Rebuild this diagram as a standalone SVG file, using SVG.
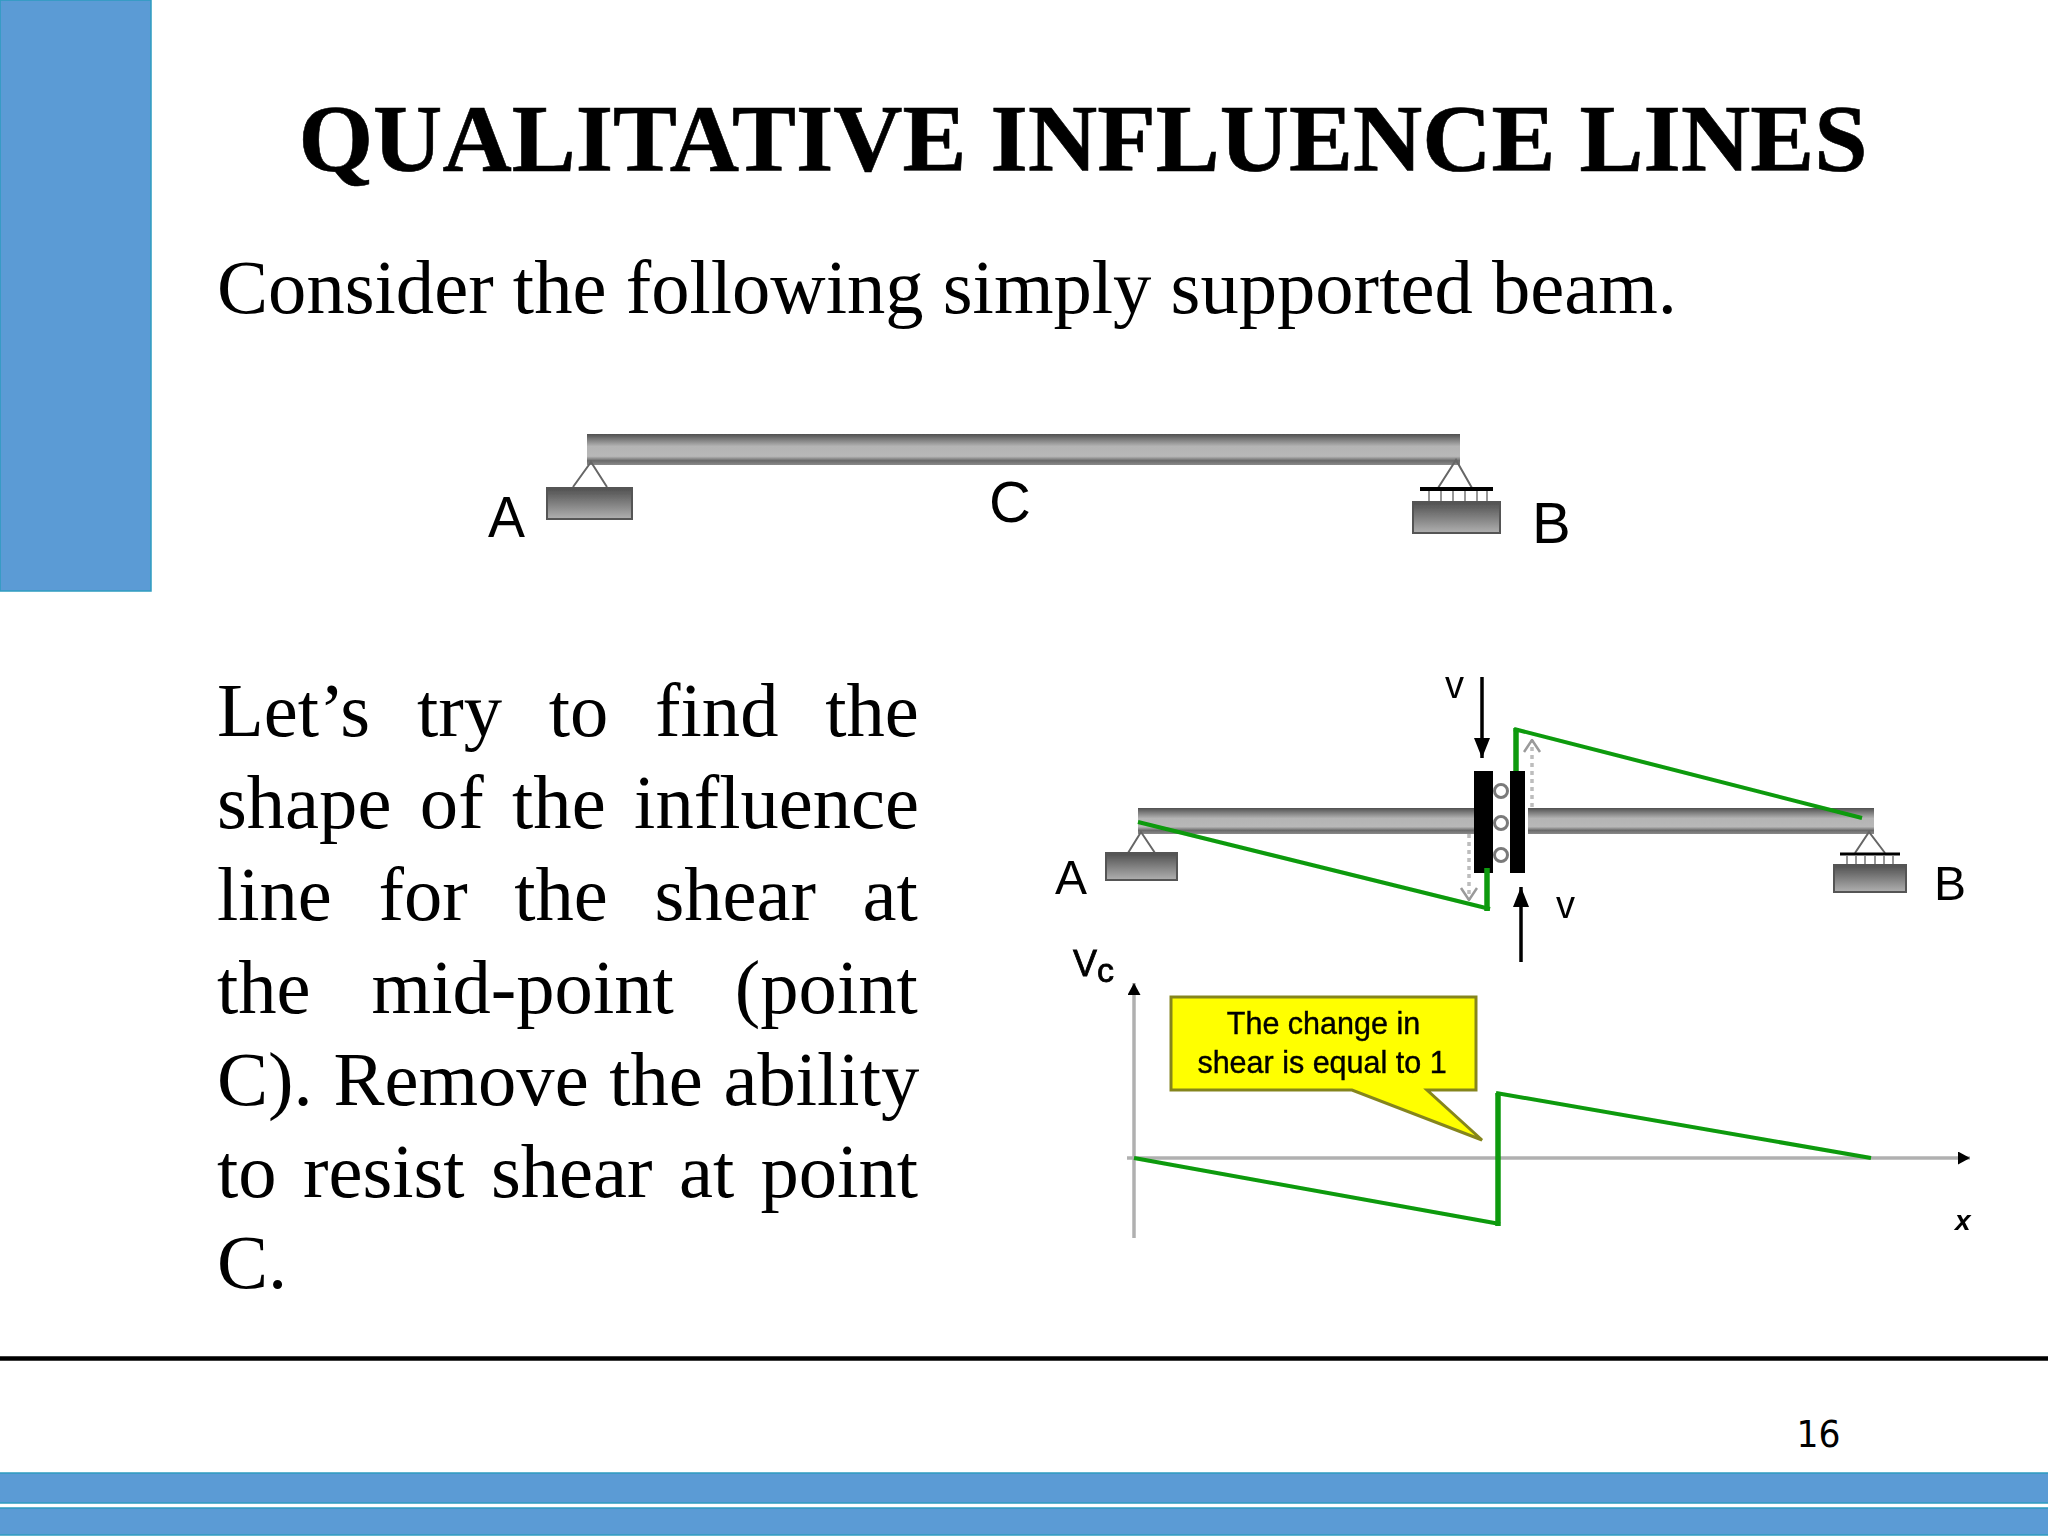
<svg xmlns="http://www.w3.org/2000/svg" width="2048" height="1536" viewBox="0 0 2048 1536">
<style>
.band{fill:#5b9bd5;stroke:#2e9cc0;stroke-width:1.5}
.title{font-family:"Liberation Serif",serif;font-weight:700;font-size:96px;fill:#000;stroke:#000;stroke-width:.6}
.body{font-family:"Liberation Serif",serif;font-size:76.6px;fill:#000}
.lbl{font-family:"Liberation Sans",Arial,sans-serif;fill:#000}
.beam{fill:url(#beamG)}
.block{fill:url(#blockG);stroke:#555;stroke-width:2}
.leg{fill:none;stroke:#666;stroke-width:2}
.green{fill:none;stroke:#0a9a0a;stroke-width:4;stroke-linejoin:miter}
.greenv{fill:none;stroke:#0a9a0a;stroke-width:5.5}
.axis{fill:none;stroke:#b0b0b0;stroke-width:3.5}
.force{fill:none;stroke:#000;stroke-width:3.5}
.ghost{fill:none;stroke:#bdbdbd;stroke-width:3.5;stroke-dasharray:4 4}
.roller{fill:#fff;stroke:#7a7a7a;stroke-width:3}
.small{fill:none;stroke:#777;stroke-width:1.5}
</style>
<defs>
<linearGradient id="beamG" x1="0" y1="0" x2="0" y2="1">
<stop offset="0" stop-color="#4f4f4f"/><stop offset=".12" stop-color="#6e6e6e"/><stop offset=".4" stop-color="#b4b4b4"/><stop offset=".72" stop-color="#b8b8b8"/><stop offset=".86" stop-color="#6a6a6a"/><stop offset="1" stop-color="#8a8a8a"/>
</linearGradient>
<linearGradient id="blockG" x1="0" y1="0" x2="0" y2="1">
<stop offset="0" stop-color="#505050"/><stop offset="1" stop-color="#b0b0b0"/>
</linearGradient>
<filter id="soft" x="-5%" y="-5%" width="110%" height="110%"><feGaussianBlur stdDeviation="0.7"/></filter>
<marker id="headBlack" markerUnits="userSpaceOnUse" markerWidth="20" markerHeight="16" refX="20" refY="8" orient="auto"><path d="M0 0L20 8L0 16Z" fill="#000"/></marker>
<marker id="headAxis" markerUnits="userSpaceOnUse" markerWidth="12" markerHeight="14" refX="12" refY="6.5" orient="auto"><path d="M0 0L12 6.5L0 13Z" fill="#000"/></marker>
<marker id="headGhost" markerUnits="userSpaceOnUse" markerWidth="14" markerHeight="20" refX="13" refY="9" orient="auto"><path d="M1 1L13 9L1 17" fill="none" stroke="#9a9a9a" stroke-width="2.5"/></marker>
</defs>
<rect width="2048" height="1536" fill="#fff"/>
<rect id="side-band" class="band" x="0" y="0" width="151" height="591"/>
<rect id="footer-band-1" class="band" x="-2" y="1473" width="2052" height="30"/>
<rect id="footer-band-2" class="band" x="-2" y="1508" width="2052" height="27"/>
<line id="footer-rule" x1="0" y1="1358.5" x2="2048" y2="1358.5" stroke="#000" stroke-width="4.5"/>
<text id="title" class="title" x="298.5" y="171" textLength="1569" lengthAdjust="spacingAndGlyphs">QUALITATIVE INFLUENCE LINES</text>
<text id="intro" class="body" x="217" y="313" textLength="1460">Consider the following simply supported beam.</text>
<g id="paragraph">
<text class="body" x="217" y="736" word-spacing="27.6">Let’s try to find the</text>
<text class="body" x="217" y="828" word-spacing="9.3">shape of the influence</text>
<text class="body" x="217" y="920" word-spacing="27.4">line for the shear at</text>
<text class="body" x="217" y="1013" word-spacing="41.9">the mid-point (point</text>
<text class="body" x="217" y="1105" word-spacing="1.5">C). Remove the ability</text>
<text class="body" x="217" y="1197" word-spacing="7.2">to resist shear at point</text>
<text class="body" x="217" y="1288">C.</text>
</g>
<text id="page-number" x="1796.5" y="1447" font-family="'DejaVu Sans',sans-serif" font-size="38" textLength="44" lengthAdjust="spacingAndGlyphs" fill="#000">16</text>

<g id="top-beam-figure" filter="url(#soft)">
<g id="beam-top"><rect class="beam" x="587" y="434" width="873" height="31"/></g>
<g id="support-a-top">
<path class="leg" d="M573 487L591 462L607 487"/>
<rect class="block" x="547" y="488" width="85" height="31"/>
</g>
<g id="support-b-top">
<path class="leg" d="M1438 488L1456 460L1472 488"/>
<line x1="1420" y1="489" x2="1493" y2="489" stroke="#000" stroke-width="4"/>
<path class="small" d="M1429 491V502M1441 491V502M1453 491V502M1465 491V502M1477 491V502M1487 491V502"/>
<rect class="block" x="1413" y="502" width="87" height="31"/>
</g>
<text id="label-a-top" class="lbl" x="488" y="537" font-size="58" textLength="37" lengthAdjust="spacingAndGlyphs">A</text>
<text id="label-c-top" class="lbl" x="989" y="522" font-size="58">C</text>
<text id="label-b-top" class="lbl" x="1532" y="543" font-size="58">B</text>
</g>

<g id="released-beam-figure" filter="url(#soft)">
<g id="beam-left"><rect class="beam" x="1138" y="808" width="337" height="26"/></g>
<g id="beam-right"><rect class="beam" x="1528" y="808" width="346" height="26"/></g>
<g id="support-a-mid">
<path class="leg" d="M1128 853L1141 832L1155 853"/>
<rect class="block" x="1106" y="853" width="71" height="27"/>
</g>
<g id="support-b-mid">
<path class="leg" d="M1855 853L1869 832L1885 853"/>
<line x1="1840" y1="854" x2="1900" y2="854" stroke="#000" stroke-width="3"/>
<path class="small" d="M1847 856V865M1856 856V865M1865 856V865M1875 856V865M1884 856V865M1893 856V865"/>
<rect class="block" x="1834" y="865" width="72" height="27"/>
</g>
<g id="shear-release">
<circle class="roller" cx="1501" cy="791" r="6.5"/>
<circle class="roller" cx="1501" cy="823" r="6.5"/>
<circle class="roller" cx="1501" cy="855" r="6.5"/>
<rect x="1474" y="771" width="19" height="102" fill="#000"/>
<rect x="1510" y="771" width="15" height="102" fill="#000"/>
</g>
<g id="connectors-mid">
<line class="ghost" x1="1469" y1="834" x2="1469" y2="900" marker-end="url(#headGhost)"/>
<line class="ghost" x1="1532" y1="807" x2="1532" y2="740" marker-end="url(#headGhost)"/>
<line class="force" x1="1482" y1="677" x2="1482" y2="758" marker-end="url(#headBlack)"/>
<line class="force" x1="1521" y1="962" x2="1521" y2="887" marker-end="url(#headBlack)"/>
<path class="green" d="M1138 822L1490 909"/>
<path class="greenv" d="M1487 911V868"/>
<path class="greenv" d="M1516 771V728"/>
<path class="green" d="M1514 729L1862 818"/>
</g>
<text id="label-a-mid" class="lbl" x="1055" y="894" font-size="48">A</text>
<text id="label-b-mid" class="lbl" x="1934" y="900" font-size="48">B</text>
<text id="label-v-top" class="lbl" x="1445" y="698" font-size="38">v</text>
<text id="label-v-bottom" class="lbl" x="1556" y="918" font-size="38">v</text>
</g>

<g id="shear-diagram" filter="url(#soft)">
<g id="axes">
<line class="axis" x1="1134" y1="1238" x2="1134" y2="983" marker-end="url(#headAxis)"/>
<line class="axis" x1="1127" y1="1158" x2="1970" y2="1158" marker-end="url(#headAxis)"/>
</g>
<g id="callout">
<path d="M1171 997H1476V1090H1427L1482 1140L1352 1090H1171Z" fill="#ffff00" stroke="#85851e" stroke-width="3"/>
<text class="lbl" x="1323.5" y="1034" font-size="30.5" text-anchor="middle" stroke="#000" stroke-width=".4">The change in</text>
<text class="lbl" x="1322" y="1073" font-size="30.5" text-anchor="middle" stroke="#000" stroke-width=".4">shear is equal to 1</text>
</g>
<g id="influence-line">
<path class="green" d="M1134 1158L1500 1224"/>
<path class="greenv" d="M1498 1226V1093"/>
<path class="green" d="M1496 1093L1871 1158"/>
</g>
<text id="label-vc" class="lbl" x="1073" y="976" font-size="36" stroke="#000" stroke-width=".8">V<tspan font-size="34" dy="6">c</tspan></text>
<text id="label-x" class="lbl" x="1955" y="1230" font-size="28" font-style="italic" font-weight="700">x</text>
</g>
</svg>
